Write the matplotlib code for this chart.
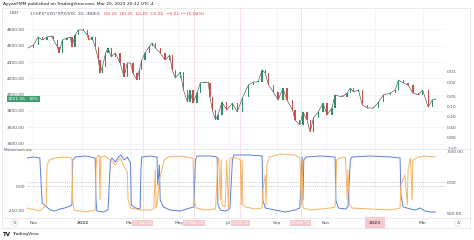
import numpy as np
import pandas as pd
import matplotlib
matplotlib.use("Agg")
import matplotlib.pyplot as plt


#? ================================= dados
price_dates = ["2021-10-25", "2021-11-01", "2021-11-07", "2021-11-12", "2021-11-18", "2021-11-24",
               "2021-11-26", "2021-12-01", "2021-12-03", "2021-12-07", "2021-12-13", "2021-12-17",
               "2021-12-19", "2021-12-23", "2021-12-27", "2022-01-02", "2022-01-07", "2022-01-09",
               "2022-01-13", "2022-01-17", "2022-01-21", "2022-01-23", "2022-01-26", "2022-01-30",
               "2022-02-02", "2022-02-06", "2022-02-11", "2022-02-17", "2022-02-22", "2022-02-26",
               "2022-03-02", "2022-03-05", "2022-03-10", "2022-03-13", "2022-03-16", "2022-03-20",
               "2022-03-26", "2022-03-29", "2022-04-02", "2022-04-08", "2022-04-14", "2022-04-20",
               "2022-04-23", "2022-04-27", "2022-05-03", "2022-05-07", "2022-05-12", "2022-05-15",
               "2022-05-19", "2022-05-24", "2022-05-28", "2022-06-03", "2022-06-07", "2022-06-09",
               "2022-06-12", "2022-06-16", "2022-06-19", "2022-06-24", "2022-06-30", "2022-07-07",
               "2022-07-13", "2022-07-20", "2022-07-27", "2022-08-02", "2022-08-08", "2022-08-13",
               "2022-08-17", "2022-08-21", "2022-08-27", "2022-09-02", "2022-09-08", "2022-09-13",
               "2022-09-20", "2022-09-23", "2022-09-29", "2022-10-03", "2022-10-08", "2022-10-12",
               "2022-10-16", "2022-10-22", "2022-10-28", "2022-11-02", "2022-11-08", "2022-11-12",
               "2022-11-21", "2022-11-27", "2022-12-01", "2022-12-05", "2022-12-11", "2022-12-16",
               "2022-12-22", "2022-12-30", "2023-01-05", "2023-01-11", "2023-01-20", "2023-01-26",
               "2023-01-30", "2023-02-05", "2023-02-11", "2023-02-17", "2023-02-24", "2023-03-01",
               "2023-03-08", "2023-03-13", "2023-03-17"]
price_close = [4573, 4610, 4708, 4671, 4708, 4720, 4671, 4585, 4512, 4671, 4696, 4708,
               4585, 4733, 4794, 4794, 4733, 4671, 4708, 4585, 4426, 4266, 4340, 4512,
               4573, 4463, 4512, 4389, 4217, 4389, 4389, 4266, 4180, 4303, 4426, 4512,
               4598, 4634, 4573, 4512, 4426, 4487, 4303, 4205, 4279, 4058, 3910, 4058,
               3898, 4021, 4144, 4156, 4144, 3972, 3812, 3690, 3751, 3910, 3812, 3898,
               3788, 3972, 4119, 4156, 4156, 4303, 4266, 4119, 4033, 3935, 4082, 3935,
               3812, 3690, 3628, 3788, 3690, 3542, 3714, 3788, 3898, 3751, 3837, 3996,
               3972, 4021, 4082, 4033, 4058, 3874, 3837, 3837, 3910, 3996, 4021, 4058,
               4180, 4144, 4119, 4021, 3996, 4058, 3849, 3935, 3947]

blue_dates = ["2021-10-24", "2021-11-01", "2021-11-09", "2021-11-11", "2021-11-12", "2021-11-16",
              "2021-11-22", "2021-11-28", "2021-12-04", "2021-12-10", "2021-12-17", "2021-12-19",
              "2021-12-20", "2021-12-23", "2022-01-05", "2022-01-17", "2022-01-18", "2022-01-19",
              "2022-01-27", "2022-02-02", "2022-02-05", "2022-02-07", "2022-02-11", "2022-02-15",
              "2022-02-18", "2022-02-22", "2022-02-26", "2022-03-02", "2022-03-03", "2022-03-08",
              "2022-03-14", "2022-03-15", "2022-03-16", "2022-03-26", "2022-04-04", "2022-04-05",
              "2022-04-07", "2022-04-08", "2022-04-12", "2022-04-20", "2022-05-03", "2022-05-15",
              "2022-05-20", "2022-05-22", "2022-05-24", "2022-06-09", "2022-06-18", "2022-06-19",
              "2022-06-22", "2022-06-28", "2022-07-02", "2022-07-04", "2022-07-07", "2022-07-09",
              "2022-07-29", "2022-08-13", "2022-08-14", "2022-08-17", "2022-08-29", "2022-09-11",
              "2022-09-23", "2022-09-29", "2022-10-01", "2022-10-02", "2022-10-03", "2022-10-04",
              "2022-10-07", "2022-10-24", "2022-11-12", "2022-11-13", "2022-11-16", "2022-11-25",
              "2022-11-28", "2022-12-01", "2022-12-03", "2022-12-26", "2023-01-20", "2023-02-01",
              "2023-02-02", "2023-02-05", "2023-02-14", "2023-02-20", "2023-02-26", "2023-03-04",
              "2023-03-11", "2023-03-17"]
blue_vals = [280, 290, 280, -40, -170, -200, -240, -250, -230, -220, -200, -190,
             260, 290, 300, 280, -140, -250, -260, -240, 260, 280, 240, 290,
             310, 260, 290, 230, -190, -220, -230, 160, 290, 300, 290, 10,
             210, -140, -210, -240, -250, -220, -210, 260, 300, 300, 290, -190,
             -240, -250, -240, -220, 260, 310, 310, 300, -140, -220, -240, -260,
             -240, -220, 160, 290, -140, 260, 290, 300, 290, -140, -220, -230,
             -210, 260, 290, 300, 290, 280, -90, -210, -230, -240, -220, -250,
             -260, -260]

orange_dates = ["2021-10-24", "2021-11-03", "2021-11-09", "2021-11-13", "2021-11-17", "2021-11-18",
                "2021-11-21", "2021-11-28", "2021-12-10", "2021-12-19", "2021-12-20", "2021-12-22",
                "2022-01-05", "2022-01-17", "2022-01-18", "2022-01-19", "2022-01-22", "2022-01-23",
                "2022-01-24", "2022-01-29", "2022-02-05", "2022-02-11", "2022-02-17", "2022-02-23",
                "2022-02-26", "2022-02-27", "2022-03-02", "2022-03-14", "2022-03-26", "2022-03-31",
                "2022-04-02", "2022-04-03", "2022-04-04", "2022-04-07", "2022-04-10", "2022-04-13",
                "2022-04-18", "2022-05-03", "2022-05-19", "2022-05-20", "2022-05-23", "2022-06-03",
                "2022-06-16", "2022-06-19", "2022-06-20", "2022-06-22", "2022-06-23", "2022-06-24",
                "2022-06-28", "2022-06-30", "2022-07-02", "2022-07-04", "2022-07-13", "2022-07-17",
                "2022-07-18", "2022-07-19", "2022-07-20", "2022-07-24", "2022-08-04", "2022-08-13",
                "2022-08-14", "2022-08-17", "2022-08-18", "2022-08-19", "2022-08-22", "2022-09-05",
                "2022-09-23", "2022-09-29", "2022-10-01", "2022-10-02", "2022-10-03", "2022-10-12",
                "2022-10-24", "2022-11-06", "2022-11-12", "2022-11-13", "2022-11-14", "2022-11-18",
                "2022-11-25", "2022-11-27", "2022-11-28", "2022-11-30", "2022-12-03", "2022-12-26",
                "2023-01-20", "2023-02-01", "2023-02-02", "2023-02-07", "2023-02-10", "2023-02-11",
                "2023-02-14", "2023-02-16", "2023-02-17", "2023-02-24", "2023-03-04", "2023-03-17"]
orange_vals = [-220, -240, -250, -220, -190, 210, 260, 280, 290, 280, -140, -240,
               -260, -240, 160, 290, 310, -140, 290, 300, 260, 210, 280, 180,
               140, -140, -220, -240, -240, -230, 160, -220, -190, 60, 160, 260,
               290, 300, 280, -140, -220, -240, -230, 260, 280, -140, 260, -190,
               -210, 260, -220, 280, 280, 260, -190, 260, -190, -210, -230, -220,
               -40, 110, -190, 210, 290, 320, 310, 280, -190, 260, -220, -240,
               -230, -220, -210, 10, 260, 280, 290, -140, 160, -190, -220, -230,
               -240, -220, 10, 110, -190, 160, 280, -140, 260, 290, 300, 290]

marker_dates = ["2022-03-17", "2022-05-20", "2022-07-17", "2022-09-30"]

month_ticks = ["2021-11-01", "2022-01-01", "2022-03-01", "2022-05-01", "2022-07-01",
               "2022-09-01", "2022-11-01", "2023-01-01", "2023-03-01"]
month_labels = ["Nov", "2022", "Mar", "May", "Jul", "Sep", "Nov", "2023", "Mar"]

price_ticks = [3400, 3600, 3800, 4000, 4200, 4400, 4600, 4800]
ratio_ticks = [0.01, 0.02, 0.05, 0.10, 0.20, 0.40, 0.80, 1.60]
osc_ticks = [0, -250]
osc_right_ticks = [-500, 0, 500]


#? ================================= estilo
cinza = "#787b86"
grade = "#f0f3fa"
verde = "#2f8f6a"
vermelho = "#c9504b"
rosa = "#f7c9cd"
fs = 3.2

W, H = 474, 240
fig = plt.figure(figsize=(W / 100, H / 100), dpi=100)

def caixa(x0, y0, x1, y1):
    # px -> fracao da figura (y medido do topo)
    return [x0 / W, 1 - y1 / H, (x1 - x0) / W, (y1 - y0) / H]

ax = fig.add_axes(caixa(27, 8, 445, 148))
osc = fig.add_axes(caixa(27, 149, 445, 218), sharex=ax)

d_price = pd.to_datetime(price_dates)
d_blue = pd.to_datetime(blue_dates)
d_orange = pd.to_datetime(orange_dates)
d_marc = pd.to_datetime(marker_dates)
d_ticks = pd.to_datetime(month_ticks)

#? ================================= painel de preco
close = np.array(price_close, dtype=float)
opens = np.r_[close[0], close[:-1]]
cores = [verde if c >= o else vermelho for o, c in zip(opens, close)]
ax.plot(d_price, close, color="#3a3a3a", lw=0.4, zorder=2)
base = np.minimum(opens, close)
alt = np.maximum(np.abs(close - opens), 6)
ax.bar(d_price, alt, bottom=base, width=1.6, color=cores, lw=0, zorder=3)

ax.set_ylim(3346, 4800 + 21.5 * 12.27)
ax.set_yticks(price_ticks)
ax.set_yticklabels([f"{p:.2f}" for p in price_ticks])
ax.yaxis.tick_left()

# escala log invertida da direita
r = ax.twinx()
r.set_yscale("log")
r.set_ylim(0.01 * 2 ** (76 / 10.4), 0.01 * 2 ** (-64 / 10.4))
r.set_yticks(ratio_ticks)
r.set_yticklabels([f"{t:.2f}" for t in ratio_ticks])
r.minorticks_off()

#? ================================= oscilador
osc.plot(d_blue, blue_vals, color="#5c7fdc", lw=0.7, zorder=3)
osc.plot(d_orange, orange_vals, color="#f6b460", lw=0.7, zorder=3)
osc.axhline(0, color="#b2b5be", lw=0.6, ls=(0, (1, 1.5)), zorder=1)
osc.axhline(40, color="#b2b5be", lw=0.6, ls=(0, (1, 1.5)), zorder=1)
osc.set_ylim(-320, 370)
osc.set_yticks(osc_ticks)
osc.set_yticklabels([f"{t:.2f}" for t in osc_ticks])

r2 = osc.twinx()
r2.set_ylim(565, -548)
r2.set_yticks(osc_right_ticks)
r2.set_yticklabels([f"{t:.2f}" for t in osc_right_ticks])

#? ================================= eixos / grade
for a in (ax, osc, r, r2):
    a.tick_params(length=0, labelsize=fs, colors="#50535e", pad=1.5)
    for s in a.spines.values():
        s.set_visible(False)

osc.set_xlim(pd.Timestamp("2021-10-24"), pd.Timestamp("2023-03-29"))
osc.set_xticks(d_ticks)
osc.set_xticklabels(month_labels)
for lab in osc.get_xticklabels():
    if lab.get_text() in ("2022", "2023"):
        lab.set_fontweight("bold")
    if lab.get_text() == "2023":
        lab.set_bbox(dict(boxstyle="square,pad=0.9", fc=rosa, ec="none"))
osc.tick_params(axis="x", pad=2.5)
ax.tick_params(axis="x", labelbottom=False)

ax.grid(True, color=grade, lw=0.6)
osc.grid(True, axis="x", color=grade, lw=0.6)
ax.set_axisbelow(True)
osc.set_axisbelow(True)

for d in d_marc:
    ax.axvline(d, color="#f6d3d6", lw=0.5, zorder=1)
    osc.axvline(d, color="#f6d3d6", lw=0.5, zorder=1)
    osc.text(d, -0.075, d.strftime("%d %b '%y"), transform=osc.get_xaxis_transform(),
             ha="center", va="center", fontsize=2.5, color="white", zorder=5,
             bbox=dict(boxstyle="square,pad=0.3", fc=rosa, ec="none"))

# separadores dos paineis
for y in (8, 148.5, 218, 228):
    fig.add_artist(plt.Line2D([2 / W, 470 / W], [1 - y / H] * 2, color="#e0e3eb", lw=0.5))
for x in (2, 470):
    fig.add_artist(plt.Line2D([x / W] * 2, [1 - 228 / H, 1 - 8 / H], color="#e0e3eb", lw=0.5))

#? ================================= textos
fig.text(3 / W, 1 - 4.5 / H, "AyyanFMM published on TradingView.com, Mar 20, 2023 20:12 UTC-4",
         fontsize=fs, color="#131722", va="center")
fig.text(10 / W, 1 - 13 / H, "USD", fontsize=fs, color="#50535e", va="center")
fig.text(30 / W, 1 - 14 / H, "1/(SPX*VIX)*SPX/VIX, 1D, INDEX", fontsize=fs, color="#50535e", va="center")
fig.text(104 / W, 1 - 14 / H, "O0.25  H0.25  L0.25  C0.25  \u22120.01 (\u221215.04%)",
         fontsize=fs, color="#f23645", va="center")
fig.text(4 / W, 1 - 150 / H, "Momentum osc", fontsize=2.6, color="#50535e", va="center")

ax.text(-0.045, close[-1], f"{close[-1] + 4.56:.2f}", transform=ax.get_yaxis_transform(),
        fontsize=fs, color="white", va="center", ha="left", zorder=6,
        bbox=dict(boxstyle="square,pad=0.3", fc="#3f9c6c", ec="none"))
ax.text(0.004, close[-1], "10%", transform=ax.get_yaxis_transform(),
        fontsize=fs, color="white", va="center", ha="left", zorder=6,
        bbox=dict(boxstyle="square,pad=0.3", fc="#3f9c6c", ec="none"))

fig.text(15 / W, 1 - 223 / H, "\u2699", fontsize=fs, color=cinza, ha="center", va="center",
         bbox=dict(boxstyle="circle,pad=0.3", fc="white", ec="#d1d4dc", lw=0.4))
fig.text(458 / W, 1 - 223 / H, "A", fontsize=fs, color=cinza, ha="center", va="center",
         bbox=dict(boxstyle="circle,pad=0.3", fc="white", ec="#d1d4dc", lw=0.4))
fig.text(3 / W, 1 - 234 / H, "TV", fontsize=4, color="#131722", weight="bold", va="center")
fig.text(12 / W, 1 - 234 / H, "TradingView", fontsize=fs, color="#131722", va="center")

fig.savefig("out.png", dpi=100, facecolor="white")
